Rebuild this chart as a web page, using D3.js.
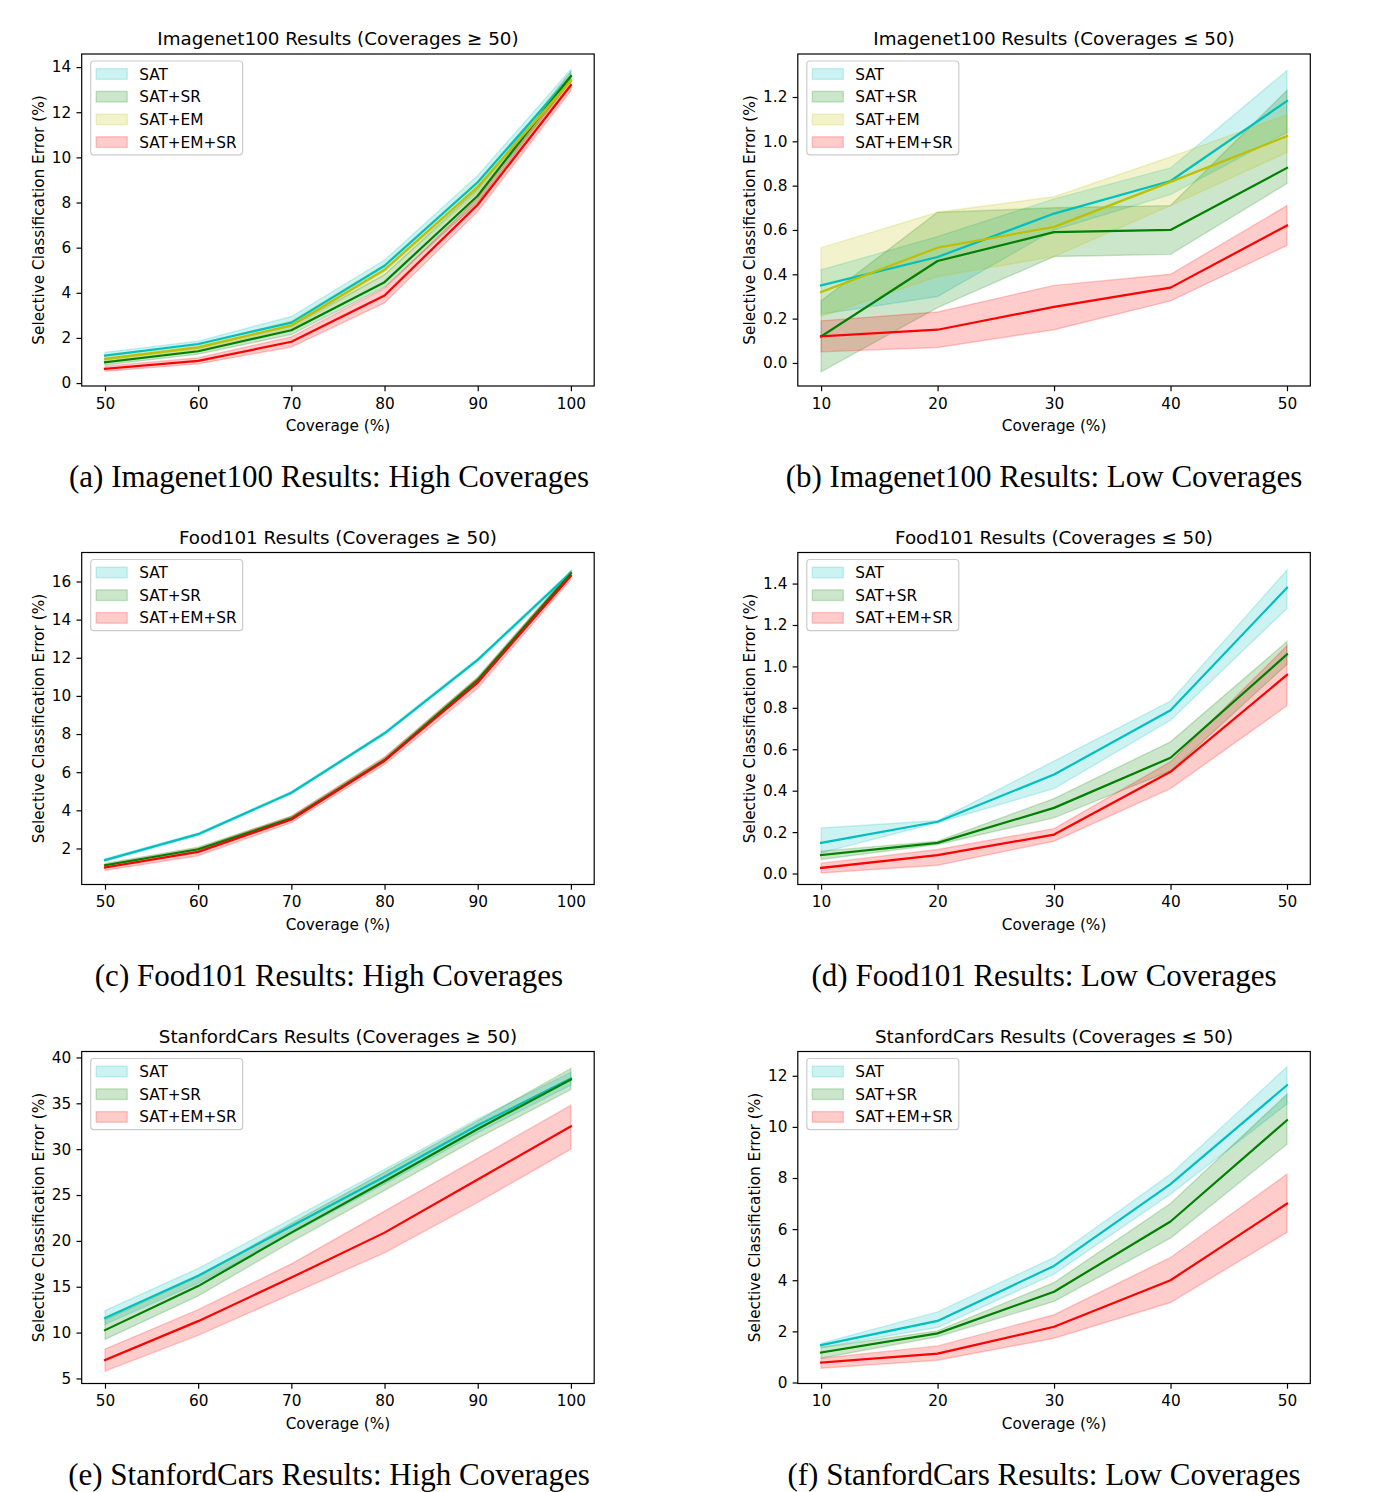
<!DOCTYPE html>
<html>
<head>
<meta charset="utf-8">
<script src="https://cdn.jsdelivr.net/npm/d3@7"></script>
<style>
  html, body { margin: 0; padding: 0; background: #ffffff; }
  svg { display: block; }
</style>
</head>
<body>
<svg id="fig" width="1380" height="1492"></svg>
<script>
// ---------------- DATA ----------------
const highCoverages = [50, 60, 70, 80, 90, 100];
const lowCoverages = [10, 20, 30, 40, 50];

const methods = ["SAT", "SAT+SR", "SAT+EM", "SAT+EM+SR"];
const methodColors = ["#00bfbf", "#008000", "#bfbf00", "#ff0000"];

// each row: [mean, lower, upper]  (selective classification error, %)
// (a) Imagenet100 high coverages
const imagenetHighSAT     = [[1.22,1.08,1.36],[1.73,1.60,1.86],[2.68,2.50,2.95],[5.20,4.95,5.45],[8.90,8.60,9.20],[13.60,13.35,13.90]];
const imagenetHighSR      = [[0.92,0.80,1.05],[1.41,1.28,1.55],[2.34,2.15,2.55],[4.47,4.25,4.80],[8.30,8.00,8.60],[13.60,13.40,13.80]];
const imagenetHighEM      = [[1.07,0.95,1.20],[1.58,1.45,1.70],[2.56,2.40,2.75],[5.02,4.80,5.25],[8.70,8.45,8.95],[13.40,13.20,13.65]];
const imagenetHighEMSR    = [[0.63,0.52,0.75],[0.98,0.85,1.12],[1.83,1.60,2.05],[3.88,3.55,4.20],[7.90,7.60,8.20],[13.20,12.95,13.45]];
// (b) Imagenet100 low coverages
const imagenetLowSAT      = [[0.350,0.22,0.42],[0.478,0.30,0.57],[0.674,0.60,0.74],[0.821,0.76,0.88],[1.182,1.04,1.32]];
const imagenetLowSR       = [[0.120,-0.04,0.28],[0.460,0.25,0.68],[0.590,0.48,0.70],[0.600,0.49,0.71],[0.880,0.81,1.23]];
const imagenetLowEM       = [[0.320,0.21,0.52],[0.520,0.39,0.68],[0.614,0.48,0.75],[0.817,0.71,0.93],[1.023,0.95,1.12]];
const imagenetLowEMSR     = [[0.120,0.05,0.19],[0.150,0.07,0.23],[0.253,0.15,0.35],[0.340,0.28,0.40],[0.620,0.53,0.71]];
// (c) Food101 high coverages
const foodHighSAT         = [[1.39,1.32,1.46],[2.75,2.68,2.82],[4.92,4.85,4.99],[8.04,7.96,8.12],[11.89,11.80,11.98],[16.47,16.38,16.56]];
const foodHighSR          = [[1.12,1.02,1.22],[1.96,1.85,2.07],[3.58,3.48,3.68],[6.64,6.53,6.75],[10.84,10.70,10.98],[16.42,16.30,16.55]];
const foodHighEMSR        = [[1.00,0.85,1.15],[1.82,1.62,2.00],[3.52,3.35,3.70],[6.60,6.40,6.80],[10.70,10.40,10.95],[16.30,16.10,16.55]];
// (d) Food101 low coverages
const foodLowSAT          = [[0.148,0.100,0.220],[0.250,0.245,0.256],[0.478,0.410,0.543],[0.788,0.740,0.833],[1.380,1.280,1.465]];
const foodLowSR           = [[0.089,0.068,0.108],[0.148,0.140,0.156],[0.317,0.269,0.362],[0.559,0.495,0.636],[1.058,1.010,1.120]];
const foodLowEMSR         = [[0.027,0.003,0.050],[0.089,0.040,0.116],[0.188,0.156,0.217],[0.491,0.410,0.540],[0.959,0.810,1.100]];
// (e) StanfordCars high coverages
const carsHighSAT         = [[11.6,10.9,12.4],[16.2,15.4,17.0],[21.6,20.8,22.4],[27.0,26.2,27.8],[32.6,31.8,33.3],[37.7,37.0,38.4]];
const carsHighSR          = [[10.27,9.25,11.4],[15.07,14.0,16.1],[20.9,19.9,21.9],[26.5,25.5,27.5],[32.2,31.2,33.1],[37.6,36.5,38.8]];
const carsHighEMSR        = [[7.0,5.8,8.2],[11.25,9.7,12.5],[16.0,14.2,17.5],[20.9,18.7,23.25],[26.7,24.2,29.0],[32.5,30.0,34.8]];
// (f) StanfordCars low coverages
const carsLowSAT          = [[1.46,1.37,1.53],[2.41,2.15,2.76],[4.56,4.24,4.89],[7.76,7.37,8.15],[11.63,10.9,12.35]];
const carsLowSR           = [[1.17,0.95,1.37],[1.92,1.79,2.02],[3.55,3.17,3.91],[6.30,5.65,7.00],[10.26,9.32,11.28]];
const carsLowEMSR         = [[0.78,0.56,0.95],[1.13,0.87,1.43],[2.18,1.73,2.65],[4.00,3.13,4.89],[7.00,5.87,8.15]];

// tick labels
const highXTicks = [50, 60, 70, 80, 90, 100];
const lowXTicks = [10, 20, 30, 40, 50];
const imagenetHighYTicks = [0, 2, 4, 6, 8, 10, 12, 14];
const imagenetLowYTicks = [0.0, 0.2, 0.4, 0.6, 0.8, 1.0, 1.2];
const foodHighYTicks = [2, 4, 6, 8, 10, 12, 14, 16];
const foodLowYTicks = [0.0, 0.2, 0.4, 0.6, 0.8, 1.0, 1.2, 1.4];
const carsHighYTicks = [5, 10, 15, 20, 25, 30, 35, 40];
const carsLowYTicks = [0, 2, 4, 6, 8, 10, 12];

const titles = [
  "Imagenet100 Results (Coverages \u2265 50)",
  "Imagenet100 Results (Coverages \u2264 50)",
  "Food101 Results (Coverages \u2265 50)",
  "Food101 Results (Coverages \u2264 50)",
  "StanfordCars Results (Coverages \u2265 50)",
  "StanfordCars Results (Coverages \u2264 50)"
];
const captions = [
  "(a) Imagenet100 Results: High Coverages",
  "(b) Imagenet100 Results: Low Coverages",
  "(c) Food101 Results: High Coverages",
  "(d) Food101 Results: Low Coverages",
  "(e) StanfordCars Results: High Coverages",
  "(f) StanfordCars Results: Low Coverages"
];

// ---------------- PANEL SETUP ----------------
const panels = [
  { x: highCoverages, xTicks: highXTicks, xDomain: [47.5, 102.5], yDomain: [-0.13, 14.58], yTicks: imagenetHighYTicks, yFmt: d3.format("d"),
    series: [[0, imagenetHighSAT], [1, imagenetHighSR], [2, imagenetHighEM], [3, imagenetHighEMSR]] },
  { x: lowCoverages, xTicks: lowXTicks, xDomain: [8, 52], yDomain: [-0.104, 1.394], yTicks: imagenetLowYTicks, yFmt: d3.format(".1f"),
    series: [[0, imagenetLowSAT], [1, imagenetLowSR], [2, imagenetLowEM], [3, imagenetLowEMSR]] },
  { x: highCoverages, xTicks: highXTicks, xDomain: [47.5, 102.5], yDomain: [0.11, 17.52], yTicks: foodHighYTicks, yFmt: d3.format("d"),
    series: [[0, foodHighSAT], [1, foodHighSR], [3, foodHighEMSR]] },
  { x: lowCoverages, xTicks: lowXTicks, xDomain: [8, 52], yDomain: [-0.053, 1.55], yTicks: foodLowYTicks, yFmt: d3.format(".1f"),
    series: [[0, foodLowSAT], [1, foodLowSR], [3, foodLowEMSR]] },
  { x: highCoverages, xTicks: highXTicks, xDomain: [47.5, 102.5], yDomain: [4.45, 40.65], yTicks: carsHighYTicks, yFmt: d3.format("d"),
    series: [[0, carsHighSAT], [1, carsHighSR], [3, carsHighEMSR]] },
  { x: lowCoverages, xTicks: lowXTicks, xDomain: [8, 52], yDomain: [-0.04, 12.95], yTicks: carsLowYTicks, yFmt: d3.format("d"),
    series: [[0, carsLowSAT], [1, carsLowSR], [3, carsLowEMSR]] }
];

// layout (pixels)
const colLeft = [81.7, 797.8];
const colWidth = 512.5;
const rowTop = [54, 552.5, 1051.5];
const boxH = 332;
const captionCenter = [329, 1044];
const captionBaseline = [487, 986, 1485];

const FONT = "'DejaVu Sans', Verdana, sans-serif";
const BASE = 15.3;
const TICK = 5.2, PAD = 6.5;

const svg = d3.select("#fig");
svg.append("rect").attr("width", 1380).attr("height", 1492).attr("fill", "#ffffff");

panels.forEach((p, i) => {
  const col = i % 2, row = Math.floor(i / 2);
  const L = colLeft[col], T = rowTop[row], W = colWidth, H = boxH;
  const xs = d3.scaleLinear().domain(p.xDomain).range([L, L + W]);
  const ys = d3.scaleLinear().domain(p.yDomain).range([T + H, T]);
  const g = svg.append("g");

  const clipId = "clip" + i;
  svg.append("clipPath").attr("id", clipId).append("rect")
    .attr("x", L).attr("y", T).attr("width", W).attr("height", H);
  const plot = g.append("g").attr("clip-path", `url(#${clipId})`);

  const area = d3.area()
    .x((d, k) => xs(p.x[k]))
    .y0(d => ys(d[1]))
    .y1(d => ys(d[2]));
  const line = d3.line()
    .x((d, k) => xs(p.x[k]))
    .y(d => ys(d[0]));

  // bands first (collections below lines)
  p.series.forEach(([m, data]) => {
    plot.append("path").attr("d", area(data))
      .attr("fill", methodColors[m]).attr("fill-opacity", 0.2)
      .attr("stroke", methodColors[m]).attr("stroke-opacity", 0.2).attr("stroke-width", 1.4);
  });
  p.series.forEach(([m, data]) => {
    plot.append("path").attr("d", line(data))
      .attr("fill", "none").attr("stroke", methodColors[m])
      .attr("stroke-width", 2.2).attr("stroke-linejoin", "round").attr("stroke-linecap", "square");
  });

  // axes
  const xAxis = d3.axisBottom(xs).tickValues(p.xTicks).tickSize(TICK).tickPadding(PAD).tickFormat(d3.format("d"));
  const yAxis = d3.axisLeft(ys).tickValues(p.yTicks).tickSize(TICK).tickPadding(5.2).tickFormat(p.yFmt);
  const gx = g.append("g").attr("transform", `translate(0,${T + H})`).call(xAxis);
  const gy = g.append("g").attr("transform", `translate(${L},0)`).call(yAxis);
  [gx, gy].forEach(ax => {
    ax.select(".domain").remove();
    ax.selectAll(".tick line").attr("stroke", "#000").attr("stroke-width", 1.2);
    ax.selectAll(".tick text").attr("fill", "#000").attr("font-family", FONT).attr("font-size", BASE);
  });

  // frame
  g.append("rect").attr("x", L).attr("y", T).attr("width", W).attr("height", H)
    .attr("fill", "none").attr("stroke", "#000").attr("stroke-width", 1.2);

  // y label
  let maxW = 0;
  gy.selectAll(".tick text").each(function () { maxW = Math.max(maxW, this.getComputedTextLength()); });
  const labelX = L - TICK - 5.2 - maxW - 8;
  g.append("text").attr("transform", `translate(${labelX},${T + H / 2}) rotate(-90)`)
    .attr("text-anchor", "middle").attr("font-family", FONT).attr("font-size", BASE).attr("fill", "#000")
    .text("Selective Classification Error (%)");

  // x label
  g.append("text").attr("x", L + W / 2).attr("y", T + H + 45)
    .attr("text-anchor", "middle").attr("font-family", FONT).attr("font-size", BASE).attr("fill", "#000")
    .text("Coverage (%)");

  // title
  g.append("text").attr("x", L + W / 2).attr("y", T - 9)
    .attr("text-anchor", "middle").attr("font-family", FONT).attr("font-size", 18.3).attr("fill", "#000")
    .text(titles[i]);

  // legend
  const n = p.series.length;
  const lgX = L + 9, lgY = T + 7;
  const rowH = 22.7;
  const lg = g.append("g");
  const frame = lg.append("rect").attr("x", lgX).attr("y", lgY).attr("rx", 3).attr("ry", 3)
    .attr("height", n * rowH + 3)
    .attr("fill", "#ffffff").attr("fill-opacity", 0.8).attr("stroke", "#cccccc").attr("stroke-width", 1.2);
  let maxT = 0;
  p.series.forEach(([m], k) => {
    const cy = lgY + 13 + k * rowH;
    lg.append("rect").attr("x", lgX + 5.5).attr("y", cy - 5.3).attr("width", 31).attr("height", 10.6)
      .attr("fill", methodColors[m]).attr("fill-opacity", 0.2)
      .attr("stroke", methodColors[m]).attr("stroke-opacity", 0.2).attr("stroke-width", 1.4);
    const t = lg.append("text").attr("x", lgX + 48.5).attr("y", cy + 5.5)
      .attr("font-family", FONT).attr("font-size", BASE).attr("fill", "#000").text(methods[m]);
    maxT = Math.max(maxT, t.node().getComputedTextLength());
  });
  frame.attr("width", 48.5 + maxT + 6);

  // caption
  svg.append("text").attr("x", captionCenter[col]).attr("y", captionBaseline[row])
    .attr("text-anchor", "middle").attr("font-family", "'Liberation Serif', 'Times New Roman', serif")
    .attr("font-size", 31).attr("fill", "#000").text(captions[i]);
});
</script>
</body>
</html>
